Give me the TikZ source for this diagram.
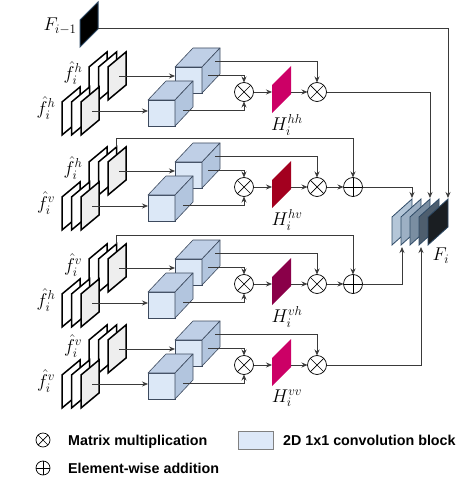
\RequirePackage{fix-cm}
\documentclass[tikz,border=0pt]{standalone}
\usepackage{fontspec}
\newfontfamily\legendfont{Liberation Sans}
\usetikzlibrary{arrows.meta,calc}
\definecolor{cubefrontc}{HTML}{DCE8F7}
\definecolor{cubetopc}{HTML}{BFCFE6}
\definecolor{cuberightc}{HTML}{B2C5DE}
\definecolor{cubeedgec}{HTML}{3D4A5E}
\definecolor{connc}{HTML}{3A3A3A}
\definecolor{hhcol}{HTML}{CC0066}
\definecolor{hvcol}{HTML}{A3001F}
\definecolor{vhcol}{HTML}{8A0049}
\definecolor{vvcol}{HTML}{CC0066}
\definecolor{framegray}{HTML}{EEEEEE}
\definecolor{sliceedge}{HTML}{2E4A66}
\definecolor{fia}{HTML}{B4C6D8}
\definecolor{fib}{HTML}{9DB0C4}
\definecolor{fic}{HTML}{7A8EA2}
\definecolor{fid}{HTML}{4E5E6E}
\definecolor{fie}{HTML}{1A1E22}
\definecolor{legrect}{HTML}{DDE8F8}
\tikzset{
  connline/.style={draw=connc, line width=0.8pt},
  arr/.style={connline, -{Stealth[length=6pt,width=5pt]}},
  frm/.style={draw=black, line width=1.5pt, line join=miter},
  cubefr/.style={draw=cubeedgec, fill=cubefrontc, line width=0.6pt, minimum width=27pt, minimum height=26pt, inner sep=0pt, outer sep=0pt},
  cubeface/.style={draw=cubeedgec, line width=0.6pt, line join=round},
  mulnode/.style={circle, draw=black, line width=0.7pt, minimum size=19pt, inner sep=0pt, outer sep=0pt,
    path picture={\draw[line width=0.7pt] (path picture bounding box.north west) -- (path picture bounding box.south east)
      (path picture bounding box.north east) -- (path picture bounding box.south west);}},
  addnode/.style={circle, draw=black, line width=0.7pt, minimum size=19pt, inner sep=0pt, outer sep=0pt,
    path picture={\draw[line width=0.7pt] (path picture bounding box.north) -- (path picture bounding box.south)
      (path picture bounding box.west) -- (path picture bounding box.east);}},
  hbox/.style={minimum width=19pt, minimum height=2pt, inner sep=0pt, outer sep=0pt},
  mathlbl/.style={inner sep=0pt, font=\fontsize{18.5}{22}\selectfont},
  legtext/.style={inner sep=0pt, anchor=base west, font=\legendfont\bfseries\fontsize{14.3}{17}\selectfont},
  slice/.style={draw=sliceedge, line width=0.8pt, line join=miter},
}
\newcommand\oneframe[3]{\filldraw[frm, fill=#3] (#1,#2) -- ++(18,-15) -- ++(0,-33) -- ++(-18,15) -- cycle;}
\newcommand\fstack[4]{%
  \oneframe{#1}{#2}{white}
  \oneframe{#1+9.5}{#2}{white}
  \oneframe{#1+19}{#2}{framegray}
  \coordinate (#3s) at (#1+30,#2-24);
  \coordinate (#3t) at (#1+27.5,#2-48);
  \node[mathlbl] (#3l) at (#1-16,#2-27) {$\hat{f}_i^{#4}$};
}
\newcommand\cubeblk[3]{%
  \node[cubefr] (#1) at (#2,#3) {};
  \filldraw[cubeface, fill=cubetopc] (#1.north west) -- ++(18,-19) -- ++(27,0) -- (#1.north east) -- cycle;
  \filldraw[cubeface, fill=cuberightc] (#1.north east) -- ++(18,-19) -- ++(0,26) -- (#1.south east) -- cycle;
}
\newcommand\branch[6]{%
\begin{scope}[yshift=-#2pt]
  \fstack{89}{100}{u#1}{#3}
  \fstack{62}{135}{l#1}{#4}
  \cubeblk{cu#1}{188.5}{80}
  \cubeblk{cl#1}{161.5}{113}
  \draw[arr] (u#1s) -- (u#1s -| cu#1.west);
  \draw[arr] (l#1s) -- (l#1s -| cl#1.west);
  \node[mulnode] (ma#1) at (244,92) {};
  \node[mulnode] (mb#1) at (317,92) {};
  \node[hbox] (h#1) at (281.5,92) {};
  \fill[#5] (272,113) -- ++(19,-19) -- ++(0,-28) -- ++(-19,19) -- cycle;
  \node[mathlbl] (hl#1) at (287,125) {$H_i^{#6}$};
  \coordinate (oa#1) at (215,61);
  \coordinate (ob#1) at (208,75);
  \coordinate (oc#1) at (183,110);
  \draw[arr] (oa#1) -| (mb#1.north);
  \draw[arr] (ob#1) -| (ma#1.north);
  \draw[arr] (oc#1) -| (ma#1.south);
  \draw[arr] (ma#1.east) -- (h#1.west);
  \draw[arr] (h#1.east) -- (mb#1.west);
\end{scope}}
\begin{document}
\begin{tikzpicture}[x=1pt,y=-1pt]
\useasboundingbox (0,0) rectangle (474,481);
% F_{i-1}
\filldraw[fill=black, draw=sliceedge, line width=1pt] (80,47) -- ++(18,-18) -- ++(0,-27) -- ++(-18,18) -- cycle;
\coordinate (Fpo) at (98,28);
\node[mathlbl] (Fp) at (60,26) {$F_{i-1}$};
% branches
\branch{1}{0}{h}{h}{hhcol}{hh}
\branch{2}{95}{h}{v}{hvcol}{hv}
\branch{3}{192}{v}{h}{vhcol}{vh}
\branch{4}{273}{v}{v}{vvcol}{vv}
% additions
\node[addnode] (pa) at (353,187) {};
\node[addnode] (pb) at (353,284) {};
\draw[arr] (mb2.east) -- (pa.west);
\draw[arr] (mb3.east) -- (pb.west);
\draw[arr] (u2t) -- ++(0,-9) -| (pa.north);
\draw[arr] (u3t) -- ++(0,-9) -| (pb.north);
% F_i stack
\foreach \k/\c in {0/fia,1/fib,2/fic,3/fid,4/fie}{
  \filldraw[slice, fill=\c] (392+9*\k,245) -- ++(20,-18) -- ++(0,-28) -- ++(-20,18) -- cycle;
}
\node[mathlbl] (Fi) at (441,256) {$F_i$};
\coordinate (ta) at (412,198);
\coordinate (tb) at (430,198);
\coordinate (tc) at (448,198);
\coordinate (ba) at (402,247);
\coordinate (bb) at (421,247);
\draw[arr] (pa.east) -| (ta);
\draw[arr] (mb1.east) -| (tb);
\draw[arr] (Fpo) -| (tc);
\draw[arr] (pb.east) -| (ba);
\draw[arr] (mb4.east) -| (bb);
% legend
\node[mulnode, minimum size=14pt] (lm) at (43,440) {};
\node[addnode, minimum size=14pt] (la) at (43,468) {};
\node[legtext] (lmt) at (68,445) {Matrix multiplication};
\node[legtext] (lat) at (68,473) {Element-wise addition};
\node[draw=gray, fill=legrect, line width=0.8pt, minimum width=35pt, minimum height=18pt, inner sep=0pt] (lr) at (255.5,440) {};
\node[legtext] (lrt) at (283,445) {2D 1x1 convolution block};
\end{tikzpicture}
\end{document}
